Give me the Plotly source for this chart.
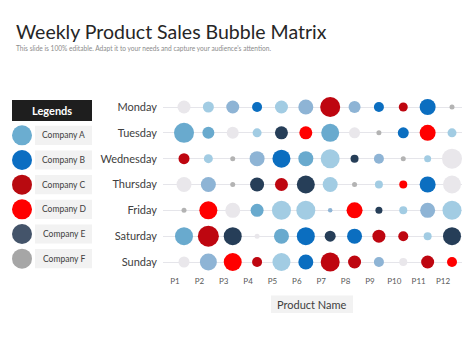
import plotly.graph_objects as go

# ---------------- data ----------------
products = ["P1", "P2", "P3", "P4", "P5", "P6", "P7", "P8", "P9", "P10", "P11", "P12"]
days = ["Monday", "Tuesday", "Wednesday", "Thursday", "Friday", "Saturday", "Sunday"]
companies = ["Company A", "Company B", "Company C", "Company D", "Company E", "Company F"]

monday_sales    = [13, 11, 13, 10, 13, 15, 20, 12, 10, 9, 16, 5]
tuesday_sales   = [20, 12, 12, 9, 13, 13, 18, 11, 5, 11, 16, 9]
wednesday_sales = [11, 9, 5, 15, 18, 15, 19, 8, 10, 5, 7, 20]
thursday_sales  = [15, 15, 5, 14, 13, 18, 15, 5, 8, 8, 16, 18]
friday_sales    = [5, 18, 15, 13, 19, 19, 4.5, 16, 7, 8, 15, 19]
saturday_sales  = [18, 21, 18, 5, 15, 18, 11, 15, 13, 10, 8, 18]
sunday_sales    = [11, 17, 18, 10, 18, 15, 19, 13, 10, 8, 13, 10]

monday_group    = ["L", "P", "S", "B", "P", "S", "C", "S", "B", "C", "B", "F"]
tuesday_group   = ["A", "A", "L", "P", "E", "D", "A", "L", "F", "B", "D", "P"]
wednesday_group = ["C", "P", "F", "S", "B", "A", "P", "E", "S", "F", "P", "L"]
thursday_group  = ["L", "S", "F", "E", "C", "E", "P", "F", "P", "D", "B", "L"]
friday_group    = ["F", "D", "L", "A", "P", "P", "S", "D", "E", "P", "S", "P"]
saturday_group  = ["A", "C", "E", "L", "A", "B", "E", "B", "C", "C", "P", "E"]
sunday_group    = ["L", "S", "D", "C", "P", "B", "C", "C", "S", "L", "C", "D"]

# ---------------- styles ----------------
OFF = 8                      # page body margin
W, H = 474 - OFF, 355 - OFF
FONT = "Lato, 'Open Sans', sans-serif"
bubble_colors = {
    "A": "#69AACE", "B": "#0B6EC0", "C": "#BE0610", "D": "#FF0000",
    "E": "#263E58", "F": "#B3B3B3", "L": "#E9E7EB", "P": "#A2CCE3", "S": "#8EB4D5",
}
legend_colors = ["#6BADD0", "#0B6EC2", "#B80A10", "#FF0000", "#44546A", "#A6A6A6"]
SIZE_SCALE = 1.0

def px_x(v):
    return (v - OFF) / W

def px_y(v):
    return 1 - (v - OFF) / H

sales_rows = [monday_sales, tuesday_sales, wednesday_sales, thursday_sales,
              friday_sales, saturday_sales, sunday_sales]
group_rows = [monday_group, tuesday_group, wednesday_group, thursday_group,
              friday_group, saturday_group, sunday_group]

fig = go.Figure()

for day, sales, groups in zip(days, sales_rows, group_rows):
    fig.add_trace(go.Scatter(
        x=products, y=[day] * len(products), mode="markers",
        marker=dict(size=[s * SIZE_SCALE for s in sales],
                    color=[bubble_colors[g] for g in groups],
                    line=dict(width=0), opacity=1),
        xaxis="x", yaxis="y", showlegend=False, hoverinfo="skip",
    ))

# legend swatches on their own small axis
fig.add_trace(go.Scatter(
    x=[0] * len(companies), y=companies, mode="markers",
    marker=dict(size=20, color=legend_colors, line=dict(width=0)),
    xaxis="x3", yaxis="y3", showlegend=False, hoverinfo="skip",
))

# main plot area geometry (pixels)
left, right, top, bottom = 163, 462, 92, 275
step_x = (452 - 184) / 11
x0 = -(184 - left) / step_x
x1 = 11 + (right - 452) / step_x
label_shift = 9 / step_x
step_y = (262 - 107) / 6
y_top = -(107 - top) / step_y
y_bot = 6 + (bottom - 262) / step_y

shapes = []
annotations = []

# title bar
shapes.append(dict(type="line", xref="paper", yref="paper",
                   x0=px_x(5.5), x1=px_x(5.5), y0=px_y(20), y1=px_y(51),
                   line=dict(color="#D9D9D9", width=2.5)))
annotations.append(dict(text="Weekly Product Sales Bubble Matrix", xref="paper", yref="paper",
                        x=px_x(14), y=px_y(31), xanchor="left", yanchor="middle", showarrow=False,
                        font=dict(family=FONT, size=19.5, color="#262626")))
annotations.append(dict(text="This slide is 100% editable. Adapt it to your needs and capture your audience's attention.",
                        xref="paper", yref="paper", x=px_x(14), y=px_y(48), xanchor="left", yanchor="middle",
                        showarrow=False, font=dict(family=FONT, size=6.6, color="#8C8C8C")))

# legend header
shapes.append(dict(type="rect", xref="paper", yref="paper", x0=px_x(12), x1=px_x(92),
                   y0=px_y(121), y1=px_y(100), fillcolor="#1E1E1E", line=dict(width=0)))
annotations.append(dict(text="<b>Legends</b>", xref="paper", yref="paper", x=px_x(52), y=px_y(110.5),
                        xanchor="center", yanchor="middle", showarrow=False,
                        font=dict(family=FONT, size=11, color="white")))
for i, c in enumerate(companies):
    shapes.append(dict(type="rect", xref="paper", yref="y3", x0=px_x(35), x1=px_x(92),
                       y0=i - 0.39, y1=i + 0.39, fillcolor="#F2F2F2", line=dict(width=0), layer="below"))
    annotations.append(dict(text=c, xref="paper", yref="y3", x=px_x(63.5), y=c,
                            xanchor="center", yanchor="middle", showarrow=False,
                            font=dict(family=FONT, size=8.5, color="#404040")))

# x-axis title box
shapes.append(dict(type="rect", xref="paper", yref="paper", x0=px_x(271), x1=px_x(353),
                   y0=px_y(313), y1=px_y(295.5), fillcolor="#F2F2F2", line=dict(width=0)))
annotations.append(dict(text="Product Name", xref="paper", yref="paper", x=px_x(312), y=px_y(304.5),
                        xanchor="center", yanchor="middle", showarrow=False,
                        font=dict(family=FONT, size=11, color="#404040")))

fig.update_layout(
    width=W, height=H, margin=dict(l=0, r=0, t=0, b=0),
    paper_bgcolor="white", plot_bgcolor="white",
    font=dict(family=FONT),
    xaxis=dict(type="category", categoryorder="array", categoryarray=products,
               domain=[px_x(left), px_x(right)], range=[x0, x1],
               showgrid=False, zeroline=False, showticklabels=False, showline=False, ticks=""),
    xaxis2=dict(overlaying="x", anchor="y", side="bottom", domain=[px_x(left), px_x(right)],
                range=[x0 + label_shift, x1 + label_shift], tickmode="array",
                tickvals=list(range(len(products))), ticktext=products,
                showgrid=False, zeroline=False, showline=False, ticks="",
                tickfont=dict(family=FONT, size=8, color="#595959")),
    yaxis=dict(type="category", categoryorder="array", categoryarray=days,
               domain=[px_y(bottom), px_y(top)], range=[y_bot, y_top],
               showgrid=True, gridcolor="#E5E5EA", gridwidth=1, zeroline=False,
               showline=False, ticks="", ticklabelstandoff=5,
               tickfont=dict(family=FONT, size=11, color="#404040")),
    xaxis3=dict(domain=[px_x(12), px_x(32)], range=[-1, 1], visible=False, anchor="y3"),
    yaxis3=dict(type="category", categoryorder="array", categoryarray=companies,
                domain=[px_y(271), px_y(123)], range=[5.5, -0.5], visible=False, anchor="x3"),
    shapes=shapes, annotations=annotations,
)

# dummy trace so xaxis2 renders its ticks
fig.add_trace(go.Scatter(x=[], y=[], xaxis="x2", yaxis="y", showlegend=False, hoverinfo="skip"))

fig.write_html("out.html")
